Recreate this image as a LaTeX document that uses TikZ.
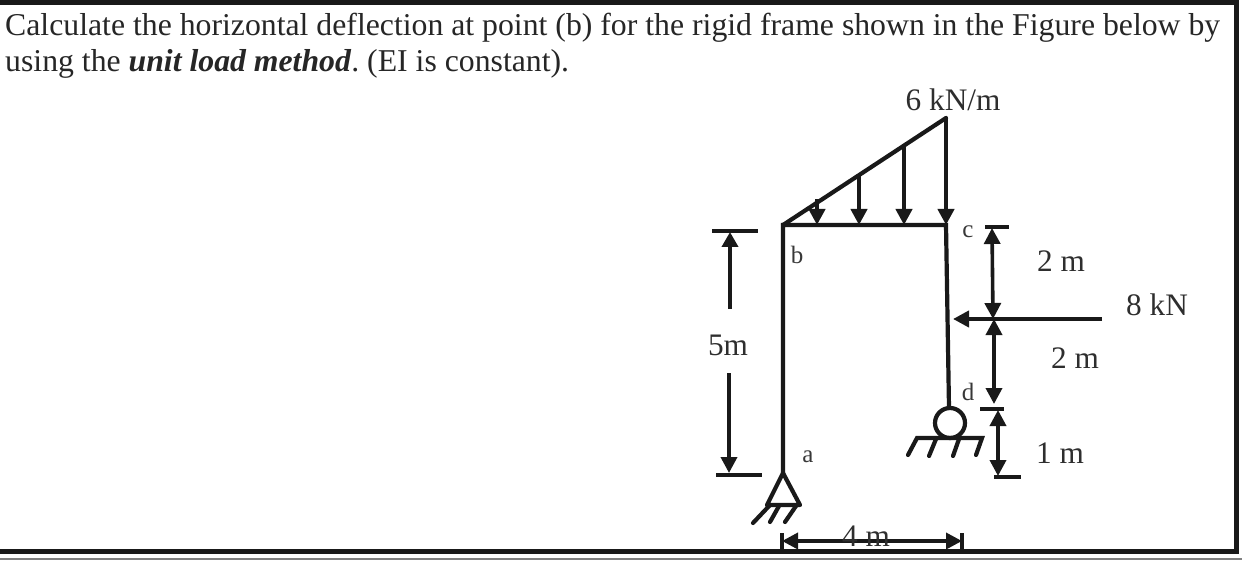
\documentclass[tikz,border=0pt]{standalone}
\usepackage{fontspec}
\setmainfont{Liberation Serif}
\usetikzlibrary{arrows.meta}
\tikzset{
  member/.style={line width=4.2pt,black!90,line cap=round},
  dimline/.style={line width=3.6pt,black!90},
  tickline/.style={line width=4pt,black!90},
  frameline/.style={line width=5pt,black!90},
  tip/.style={-{Triangle[width=16pt,length=16pt]}},
  tipboth/.style={{Triangle[width=16pt,length=16pt]}-{Triangle[width=16pt,length=16pt]}},
  label/.style={inner sep=0pt,text=black!82,font=\fontsize{31.3}{31.3}\selectfont},
  small/.style={inner sep=0pt,text=black!78,font=\fontsize{25}{25}\selectfont},
  head/.style={inner sep=0pt,anchor=base west,text=black!85,font=\fontsize{31.75}{32}\selectfont},
}
\begin{document}
\begin{tikzpicture}[x=1pt,y=-1pt]
\useasboundingbox (0,0) rectangle (1242,561);
% frame
\coordinate (ftl) at (0,2.5);
\coordinate (ftr) at (1236.5,2.5);
\coordinate (fbr) at (1236.5,551.5);
\coordinate (fbl) at (0,551.5);
\coordinate (gl) at (0,558.5);
\coordinate (gr) at (1242,558.5);
\draw[frameline] (ftl) -- (ftr) -- (fbr) -- (fbl);
\draw[line width=2pt,black!50] (gl) -- (gr);
% heading
\node[head] (h1) at (5,36) {Calculate the horizontal deflection at point (b) for the rigid frame shown in the Figure below by};
\node[head] (h2) at (5,72) {\frenchspacing using the \textbf{\textit{unit load method}}. (EI is constant).};
% joints
\coordinate (a) at (783,473);
\coordinate (b) at (783,225);
\coordinate (c) at (946,225);
\coordinate (top) at (946,118);
\coordinate (d) at (949,408);
% frame members
\draw[member] (a) -- (b) -- (c) -- (d);
\draw[member] (b) -- (top);
% load arrows
\coordinate (l1) at (817,199);
\coordinate (l1e) at (817,225);
\coordinate (l2) at (859,174);
\coordinate (l2e) at (859,225);
\coordinate (l3) at (904,146);
\coordinate (l3e) at (904,225);
\coordinate (l4e) at (946,225);
\draw[member,tip,line cap=butt] (l1) -- (l1e);
\draw[member,tip,line cap=butt] (l2) -- (l2e);
\draw[member,tip,line cap=butt] (l3) -- (l3e);
\draw[member,tip,line cap=butt] (top) -- (l4e);
% pin support at a
\coordinate (tl) at (767,505);
\coordinate (tr) at (800,505);
\coordinate (h1a) at (770,505);\coordinate (h1b) at (753,523);
\coordinate (h2a) at (779,506);\coordinate (h2b) at (770,522);
\coordinate (h3a) at (796,506);\coordinate (h3b) at (785,522);
\draw[member,line join=round] (a) -- (tl) -- (tr) -- cycle;
\draw[member] (h1a) -- (h1b);
\draw[member] (h2a) -- (h2b);
\draw[member] (h3a) -- (h3b);
% roller at d
\node[draw,circle,line width=4.2pt,minimum size=30pt,inner sep=0pt,black!90] (roller) at (950,423) {};
\coordinate (gla) at (917,438);\coordinate (gra) at (982,438);
\coordinate (g1) at (908,455);
\coordinate (g2a) at (936,439);\coordinate (g2) at (929,456);
\coordinate (g3a) at (959,439);\coordinate (g3) at (953,456);
\coordinate (g4) at (976,455);
\draw[member] (g1) -- (gla) -- (gra) -- (g4);
\draw[member] (g2a) -- (g2);
\draw[member] (g3a) -- (g3);
% 5m dimension
\coordinate (t5a) at (712,231);\coordinate (t5b) at (758,231);
\coordinate (t6a) at (716,474.5);\coordinate (t6b) at (762,474.5);
\coordinate (d5a) at (730,232);\coordinate (d5b) at (730,309);
\coordinate (d6a) at (729,373);\coordinate (d6b) at (729,473);
\draw[tickline] (t5a) -- (t5b);
\draw[tickline] (t6a) -- (t6b);
\draw[dimline,{Triangle[width=16pt,length=15pt]}-] (d5a) -- (d5b);
\draw[dimline,tip] (d6a) -- (d6b);
\node[label] (l5m) at (728,345) {5m};
% 4m dimension
\coordinate (m4a) at (782,533);\coordinate (m4b) at (782,551);
\coordinate (m4c) at (962,533);\coordinate (m4d) at (962,551);
\coordinate (m4l) at (782,541);\coordinate (m4r) at (962,541);
\draw[tickline,line width=3.2pt] (m4a) -- (m4b);
\draw[tickline,line width=3.2pt] (m4c) -- (m4d);
\draw[dimline,tipboth] (m4l) -- (m4r);
\node[label] (l4m) at (866,536) {4 m};
% right dimensions
\coordinate (t1a) at (985,227);\coordinate (t1b) at (1009,227);
\coordinate (t2a) at (980,409);\coordinate (t2b) at (1004,409);
\coordinate (t3a) at (994,477);\coordinate (t3b) at (1021,477);
\coordinate (r1) at (992,228);\coordinate (r2) at (993,319);
\coordinate (r3) at (994,319);\coordinate (r4) at (994,404);
\coordinate (r5) at (998,410);\coordinate (r6) at (998,476);
\draw[tickline] (t1a) -- (t1b);
\draw[tickline] (t2a) -- (t2b);
\draw[tickline] (t3a) -- (t3b);
\draw[dimline,tipboth] (r1) -- (r2);
\draw[dimline,tipboth] (r3) -- (r4);
\draw[dimline,tipboth] (r5) -- (r6);
% point load
\coordinate (p8) at (1102,319);\coordinate (p8e) at (953,319);
\draw[member,tip,line cap=butt] (p8) -- (p8e);
% labels
\node[label] (load) at (953,100) {6 kN/m};
\node[label] (l2a) at (1061,261) {2 m};
\node[label] (l2b) at (1075,358) {2 m};
\node[label] (l1m) at (1060,453) {1 m};
\node[label] (l8) at (1157,305) {8 kN};
\node[small] (na) at (808,457) {a};
\node[small] (nb) at (797,255) {b};
\node[small] (nc) at (968,232) {c};
\node[small] (nd) at (968,392) {d};
\end{tikzpicture}
\end{document}
